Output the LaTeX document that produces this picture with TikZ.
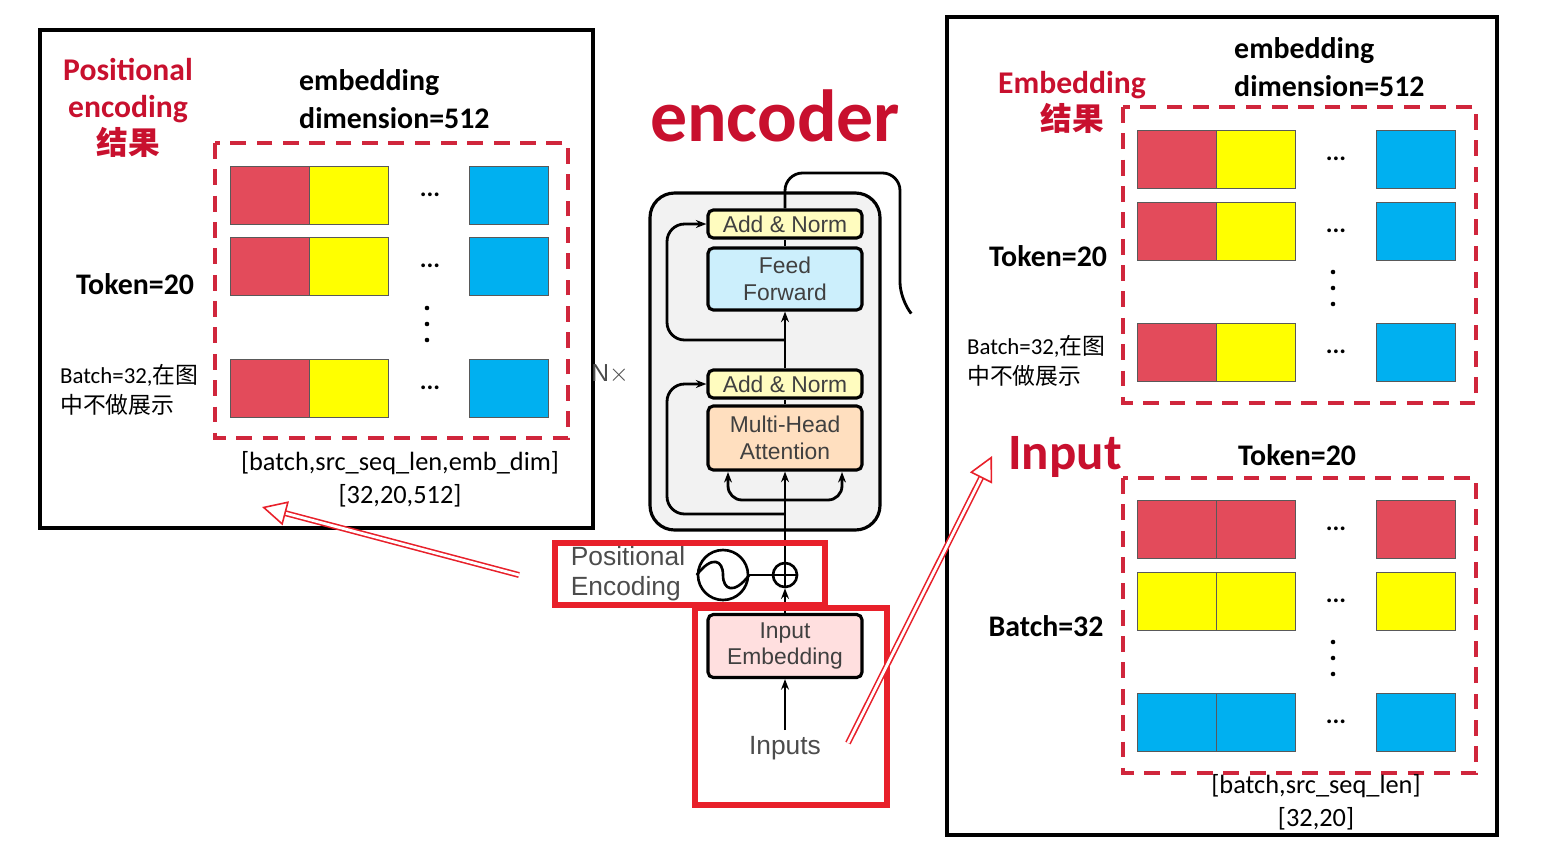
\documentclass[tikz,border=0pt]{standalone}
\usepackage{fontspec}
\setmainfont{Carlito}
\newfontfamily\helv{Liberation Sans}
\newfontfamily\cjk{Noto Sans CJK SC}
\usepackage{xcolor}
\usetikzlibrary{shapes, arrows.meta, positioning}

\definecolor{cellred}{HTML}{E34B5B}
\definecolor{cellyellow}{HTML}{FFFF00}
\definecolor{cellblue}{HTML}{00B0F0}
\definecolor{dashred}{HTML}{D0263C}
\definecolor{titlered}{HTML}{C8102E}
\definecolor{boxred}{HTML}{E8202A}

\begin{document}
\begin{tikzpicture}[
    x=0.02cm, y=-0.02cm,
    panel/.style={draw, line width=2.5pt},
    frame/.style={draw=dashred, line width=1.8pt, dash pattern=on 9pt off 6pt},
    cell/.style={draw=gray!70!black, line width=0.4pt, minimum width=1.58cm, minimum height=1.16cm, inner sep=0pt},
    label/.style={font=\fontsize{17}{22}\selectfont\bfseries},
    redlabel/.style={font=\fontsize{18}{21}\selectfont\bfseries, text=titlered, align=center},
    note/.style={font=\fontsize{13}{17}\selectfont, align=left},
    dots/.style={font=\Large\bfseries},
    block/.style={draw, line width=1.8pt, rounded corners=3pt, minimum width=3.08cm, inner sep=0pt, align=center, font=\helv\fontsize{13}{15}\selectfont, text=black!75},
    flow/.style={line width=1.6pt, -{Stealth[length=6pt]}},
    hilite/.style={draw=boxred, line width=3.5pt},
    pointer/.style={draw=boxred, double=white, double distance=1.6pt, line width=0.9pt, -{Triangle[open, length=14pt, width=14pt]}}
    ]
    \useasboundingbox (0,0) rectangle (1547,862);

    % left panel: positional encoding result
    \draw[panel] (40,30) rectangle (593,528);
    \draw[frame] (215,143) rectangle (568,438);
    \foreach \y in {195,266,388} {
        \node[cell, fill=cellred] at (270,\y) {};
        \node[cell, fill=cellyellow] at (349,\y) {};
        \node[cell, fill=cellblue] at (509,\y) {};
        \node[dots] at (430,\y) {...};
    }
    \foreach \y in {308,324,340} \fill (427,\y) circle (1.3pt);
    \node[redlabel] (peres) at (128,108) {Positional\\encoding\\{\cjk 结果}};
    \node[label, align=left, anchor=west] (embl) at (293,99) {embedding\\dimension=512};
    \node[label] (tokl) at (135,284) {Token=20};
    \node[note, anchor=west] (batl) at (54,390) {Batch=32,{\cjk 在图}\\{\cjk 中不做展示}};
    \node[font=\fontsize{15}{19}\selectfont, align=center] (shapel) at (400,479) {[batch,src\_seq\_len,emb\_dim]\\{}[32,20,512]};

    % right panel: embedding result and input
    \draw[panel] (947,17) rectangle (1497,835);
    \draw[frame] (1123,107) rectangle (1476,403);
    \foreach \y in {159,231,352} {
        \node[cell, fill=cellred] at (1177,\y) {};
        \node[cell, fill=cellyellow] at (1256,\y) {};
        \node[cell, fill=cellblue] at (1416,\y) {};
        \node[dots] at (1336,\y) {...};
    }
    \foreach \y in {272,288,304} \fill (1333,\y) circle (1.3pt);
    \node[redlabel] (embres) at (1072,102) {Embedding\\{\cjk 结果}};
    \node[label, align=left, anchor=west] (embr) at (1228,67) {embedding\\dimension=512};
    \node[label] (tokr) at (1048,256) {Token=20};
    \node[note, anchor=west] (batr) at (961,361) {Batch=32,{\cjk 在图}\\{\cjk 中不做展示}};

    \draw[frame] (1123,478) rectangle (1476,773);
    \foreach \y/\c in {529/cellred,601/cellyellow,722/cellblue} {
        \node[cell, fill=\c] at (1177,\y) {};
        \node[cell, fill=\c] at (1256,\y) {};
        \node[cell, fill=\c] at (1416,\y) {};
        \node[dots] at (1336,\y) {...};
    }
    \foreach \y in {642,658,674} \fill (1333,\y) circle (1.3pt);
    \node[font=\fontsize{29}{31}\selectfont\bfseries, text=titlered] (inp) at (1065,457) {Input};
    \node[label] (tokb) at (1297,455) {Token=20};
    \node[label] (batb) at (1046,626) {Batch=32};
    \node[font=\fontsize{15}{19}\selectfont, align=center] (shaper) at (1316,802) {[batch,src\_seq\_len]\\{}[32,20]};

    % encoder stack
    \node[font=\fontsize{42}{44}\selectfont\bfseries, text=titlered] (title) at (775,116) {encoder};
    \draw[line width=1.8pt, fill=gray!10, rounded corners=14pt] (650,193) rectangle (880,530);
    \node[block, fill=yellow!25, minimum height=0.56cm] (an2) at (785,224) {Add \& Norm};
    \node[block, fill=cyan!20, minimum height=1.24cm] (ff) at (785,279) {Feed\\Forward};
    \node[block, fill=yellow!25, minimum height=0.56cm] (an1) at (785,384) {Add \& Norm};
    \node[block, fill=orange!25, minimum height=1.28cm] (mha) at (785,438) {Multi-Head\\Attention};
    \node[font=\helv\fontsize{14}{16}\selectfont, text=black!70] (nx) at (610,374) {N$\times$};

    \node[draw, circle, line width=1.5pt, minimum size=1cm, inner sep=0pt] (wave) at (723,575) {};
    \draw[line width=1.5pt] (wave.west) .. controls (712,555) and (723,560) .. (723,575) .. controls (723,590) and (734,595) .. (wave.east);
    \node[draw, circle, line width=1.5pt, minimum size=0.48cm, inner sep=0pt] (plus) at (785,575) {};
    \draw[line width=1.3pt] (plus.north) -- (plus.south) (plus.west) -- (plus.east);
    \node[font=\helv\fontsize{15}{17}\selectfont, text=black!70, align=left] (petxt) at (628,574) {Positional\\Encoding};
    \node[block, fill=pink!50, minimum height=1.26cm] (emb) at (785,646) {Input\\Embedding};
    \node[font=\helv\fontsize{15}{17}\selectfont, text=black!70] (inputs) at (785,748) {Inputs};

    \draw[line width=1.6pt] (wave) -- (plus);
    \draw[flow] (inputs) -- (emb);
    \draw[flow] (emb) -- (plus);
    \draw[line width=1.6pt] (plus) -- (785,520);
    \draw[flow] (785,520) -- (mha);
    \draw[flow, rounded corners=8pt] (785,500) -- (728,500) -- (728,472);
    \draw[flow, rounded corners=8pt] (785,500) -- (842,500) -- (842,472);
    \draw[flow, rounded corners=10pt] (785,514) -- (667,514) -- (667,384) -- (an1.west);
    \draw[line width=1.6pt] (mha) -- (an1);
    \draw[flow] (an1) -- (ff);
    \draw[flow, rounded corners=10pt] (785,340) -- (667,340) -- (667,224) -- (an2.west);
    \draw[line width=1.6pt] (ff) -- (an2);
    \draw[line width=1.6pt, rounded corners=10pt] (an2.north) -- (785,173) -- (900,173) -- (900,300) -- (910,312);

    % highlights and pointers
    \draw[hilite] (555,543) rectangle (825,605);
    \draw[hilite] (695,608) rectangle (887,805);
    \coordinate (petip) at (262,507);
    \coordinate (inptip) at (992,456);
    \draw[pointer] (519,575) -- (petip);
    \draw[pointer] (848,743) -- (inptip);
\end{tikzpicture}
\end{document}
